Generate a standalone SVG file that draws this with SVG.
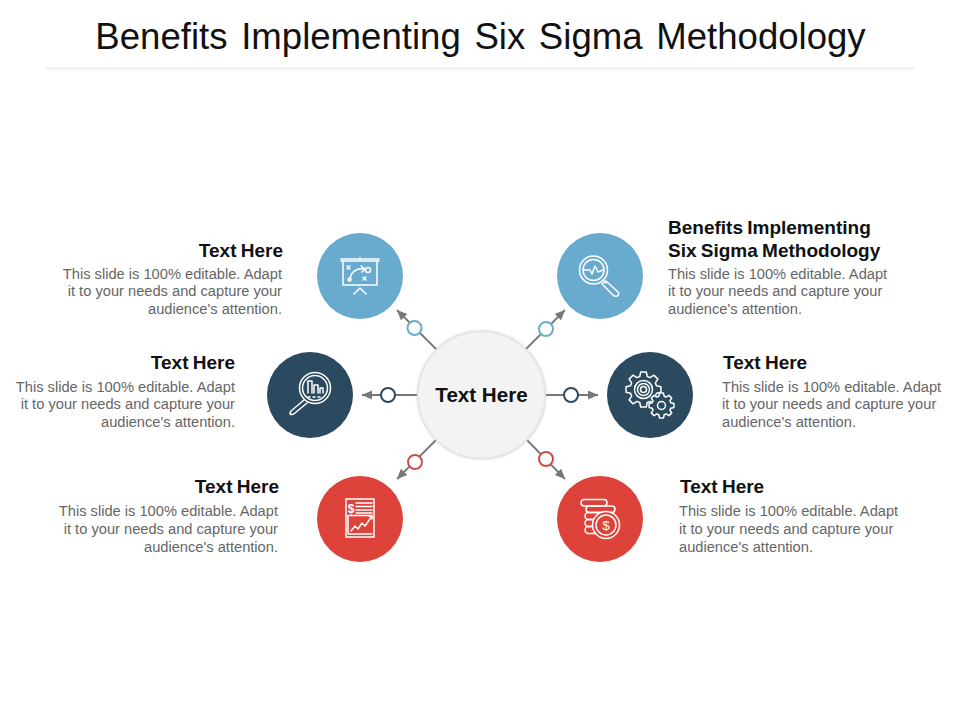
<svg xmlns="http://www.w3.org/2000/svg" width="960" height="720" viewBox="0 0 960 720">
<style>
text{font-family:"Liberation Sans",Arial,sans-serif}
.title{font-size:36.6px;fill:#111;word-spacing:3.500px}
.h{font-size:19px;font-weight:bold;fill:#111;word-spacing:-1px}
.b{font-size:14.670px;fill:#666}
.end{text-anchor:end}
.i{fill:none;stroke:#fff;stroke-width:1.500;stroke-linecap:round;stroke-linejoin:round}
.l{stroke:#777;stroke-width:1.800;fill:none;marker-end:url(#a)}
.d{fill:#fff;stroke-width:2}
</style>
<defs>
<marker id="a" markerUnits="userSpaceOnUse" markerWidth="11" markerHeight="10" refX="10" refY="4.500" orient="auto"><path d="M0 0L10 4.500L0 9z" fill="#777"/></marker>
<filter id="s" x="-10%" y="-10%" width="120%" height="120%"><feDropShadow dx="0" dy="0" stdDeviation="1" flood-color="#aaa" flood-opacity=".5"/></filter>
<path id="gear" vector-effect="non-scaling-stroke" d="M12.500-3.600L16.800-2.700V2.700L12.500 3.600L11.400 6.300L13.800 10L10 13.800L6.300 11.400L3.600 12.500L2.700 16.800H-2.700L-3.600 12.500L-6.300 11.400L-10 13.800L-13.800 10L-11.400 6.300L-12.500 3.600L-16.800 2.700V-2.700L-12.500-3.600L-11.400-6.300L-13.800-10L-10-13.800L-6.300-11.400L-3.600-12.500L-2.700-16.800H2.700L3.600-12.500L6.300-11.400L10-13.800L13.800-10L11.400-6.300z"/>
</defs>
<rect width="960" height="720" fill="#fff"/>
<g id="title"><text class="title" x="480.500" y="49" text-anchor="middle">Benefits Implementing Six Sigma Methodology</text><line x1="46" y1="68.500" x2="914" y2="68.500" stroke="#eee" stroke-width="2"/></g>
<g id="connectors">
<path class="l" d="M437 350L397 310"/><path class="l" d="M526 349L565 310"/>
<path class="l" d="M418 395H362"/><path class="l" d="M545 395H598"/>
<path class="l" d="M437 439L397 479"/><path class="l" d="M526 439L565 479"/>
<circle class="d" cx="414.500" cy="328" r="7" stroke="#6aaccf"/><circle class="d" cx="546" cy="329" r="7" stroke="#6aaccf"/>
<circle class="d" cx="388" cy="395" r="7" stroke="#2b4a60"/><circle class="d" cx="571" cy="395" r="7" stroke="#2b4a60"/>
<circle class="d" cx="415" cy="462" r="7" stroke="#c9504a"/><circle class="d" cx="546" cy="459" r="7" stroke="#c9504a"/>
</g>
<g id="center"><circle cx="481.500" cy="395" r="63.500" fill="#f3f3f3" stroke="#e6e6e6" stroke-width="2" filter="url(#s)"/><text x="481.500" y="402" text-anchor="middle" font-size="20.600" font-weight="bold" fill="#111">Text Here</text></g>
<g id="node-tl"><circle cx="360" cy="276" r="43" fill="#68abcf"/>
<g class="i"><path d="M341 259H379M341 261H379M360 257.500V258.500M343 262V285H377V262M354 294L360 288L366 294"/><path d="M350 281C350 273 355 268 364 269M361 266L365 269L362 272"/><circle cx="368" cy="270" r="2.500"/><circle cx="349.500" cy="279.500" r="1.500"/><path d="M347 266L350 269M350 266L347 269M363 277L366 280M366 277L363 280"/></g></g>
<g id="node-tr"><circle cx="600" cy="276" r="43" fill="#68abcf"/>
<g class="i"><circle cx="593.500" cy="270" r="14"/><circle cx="593.500" cy="270" r="10.500"/><path d="M584 270H590L592 274L595 266L598 272L603 270"/><path d="M603 280L606 283M606 281L618 292Q620 295 617 296Q615 297 613 295L602 284z"/></g></g>
<g id="node-ml"><circle cx="310" cy="395" r="43" fill="#2b4a60"/>
<g class="i"><circle cx="315" cy="388" r="15.500"/><circle cx="315" cy="388" r="12.500"/><path d="M308 393V381H312V393M314 393V385H318V393M320 393V388H323V393"/><path d="M308 397H323" stroke-dasharray="2 3"/><path d="M304 400L291 411Q289 414 291 414.500Q293 415 295 413L307 403"/></g></g>
<g id="node-mr"><circle cx="650" cy="395" r="43" fill="#2b4a60"/>
<g class="i"><use href="#gear" transform="translate(643.500 389.500) scale(1.040)"/><circle cx="643.500" cy="389.500" r="9"/><circle cx="643.500" cy="389.500" r="6"/><circle cx="643.500" cy="389.500" r="3"/><use href="#gear" fill="#2b4a60" transform="translate(661.500 405.500) scale(.74)"/><circle cx="661.500" cy="405.500" r="4"/></g></g>
<g id="node-bl"><circle cx="360" cy="519" r="43" fill="#de433b"/>
<g class="i"><path d="M346 499H374V537H346z"/><path d="M356 503H372M356 506.500H372M356 510H372M356 513H372M348 515.500H372"/><path d="M348 516V534H372M351 531L355 526L358 529L362 523L365 526L372 516M369 516H372V519"/></g><text x="351" y="513" text-anchor="middle" font-size="12" font-weight="bold" fill="#fff">$</text></g>
<g id="node-br"><circle cx="600" cy="519" r="43" fill="#de433b"/>
<g class="i"><rect x="581" y="499.500" width="26" height="6.500" rx="3.200"/><rect x="586" y="506" width="29" height="6.500" rx="3.200"/><rect x="585" y="512.500" width="24" height="7" rx="3.500"/><rect x="585" y="519.500" width="24" height="7" rx="3.500"/><rect x="585" y="526.500" width="24" height="7" rx="3.500"/><circle cx="606" cy="525" r="13.500" fill="#de433b"/><circle cx="606" cy="525" r="10"/></g><text x="606" y="530" text-anchor="middle" font-size="13" fill="#fff">$</text></g>
<g id="text-tl"><text class="h end" x="283" y="257">Text Here</text><text class="b end" x="282" y="279">This slide is 100% editable. Adapt</text><text class="b end" x="282" y="296">it to your needs and capture your</text><text class="b end" x="282" y="314">audience's attention.</text></g>
<g id="text-ml"><text class="h end" x="235" y="369">Text Here</text><text class="b end" x="235" y="392">This slide is 100% editable. Adapt</text><text class="b end" x="235" y="409">it to your needs and capture your</text><text class="b end" x="235" y="427">audience's attention.</text></g>
<g id="text-bl"><text class="h end" x="279" y="493">Text Here</text><text class="b end" x="278" y="516">This slide is 100% editable. Adapt</text><text class="b end" x="278" y="534">it to your needs and capture your</text><text class="b end" x="278" y="552">audience's attention.</text></g>
<g id="text-tr"><text class="h" x="668" y="234">Benefits Implementing</text><text class="h" x="668" y="257">Six Sigma Methodology</text><text class="b" x="668" y="279">This slide is 100% editable. Adapt</text><text class="b" x="668" y="296">it to your needs and capture your</text><text class="b" x="668" y="314">audience's attention.</text></g>
<g id="text-mr"><text class="h" x="723" y="369">Text Here</text><text class="b" x="722" y="392">This slide is 100% editable. Adapt</text><text class="b" x="722" y="409">it to your needs and capture your</text><text class="b" x="722" y="427">audience's attention.</text></g>
<g id="text-br"><text class="h" x="680" y="493">Text Here</text><text class="b" x="679" y="516">This slide is 100% editable. Adapt</text><text class="b" x="679" y="534">it to your needs and capture your</text><text class="b" x="679" y="552">audience's attention.</text></g>
</svg>
